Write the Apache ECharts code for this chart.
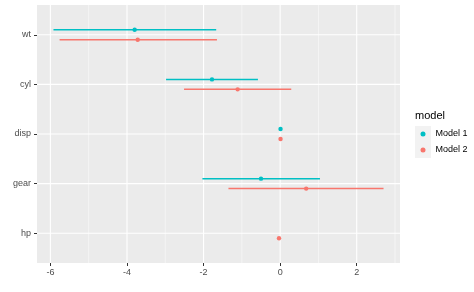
<!DOCTYPE html>
<html><head><meta charset="utf-8">
<script src="https://cdn.jsdelivr.net/npm/echarts@6/dist/echarts.min.js"></script>
<style>html,body{margin:0;padding:0;background:#fff}#c{width:474px;height:292px}</style>
</head><body><div id="c"></div>
<script>
const terms = ['wt', 'cyl', 'disp', 'gear', 'hp'];
const models = ['Model 1', 'Model 2'];
// estimates and confidence intervals per term (null = not in model)
const m1Est = [-3.80, -1.78, 0.01, -0.50, null];
const m1Lo  = [-5.92, -2.98, -0.01, -2.03, null];
const m1Hi  = [-1.67, -0.58, 0.03, 1.04, null];
const m2Est = [-3.72, -1.11, 0.01, 0.68, -0.03];
const m2Lo  = [-5.76, -2.51, -0.01, -1.35, -0.05];
const m2Hi  = [-1.65, 0.29, 0.03, 2.70, -0.01];
const xMajor = [-6, -4, -2, 0, 2];
const xMinor = [-5, -3, -1, 1, 3];
const colors = ['#00BFC4', '#F8766D'];

const yPos = terms.map((t, i) => i + 1);
function rows(est, lo, hi) {
  const out = [];
  est.forEach((e, i) => { if (e !== null) out.push([e, lo[i], hi[i], yPos[i]]); });
  return out;
}
const dodge = [-0.1, 0.1];

function barSeries(k, data) {
  return {
    type: 'custom', name: models[k], data: data, z: 5,
    itemStyle: { color: colors[k] },
    encode: { x: [0, 1, 2], y: 3 },
    renderItem: function (params, api) {
      const y = api.value(3) + dodge[k];
      const p = api.coord([api.value(0), y]);
      const l = api.coord([api.value(1), y]);
      const h = api.coord([api.value(2), y]);
      return { type: 'group', children: [
        { type: 'line', shape: { x1: l[0], y1: l[1], x2: h[0], y2: h[1] },
          style: { stroke: colors[k], lineWidth: 1.5 } },
        { type: 'circle', shape: { cx: p[0], cy: p[1], r: 2.2 },
          style: { fill: colors[k] } }
      ]};
    }
  };
}

function gridSeries(vals, vertical, w) {
  return {
    type: 'custom', silent: true, z: 1,
    data: vals.map(v => vertical ? [v, 3] : [0, v]),
    encode: { x: 0, y: 1 },
    renderItem: function (params, api) {
      const cs = params.coordSys;
      const c = api.coord([api.value(0), api.value(1)]);
      if (vertical) {
        return { type: 'line', shape: { x1: c[0], y1: cs.y, x2: c[0], y2: cs.y + cs.height },
          style: { stroke: '#ffffff', lineWidth: w } };
      }
      return { type: 'line', shape: { x1: cs.x, y1: c[1], x2: cs.x + cs.width, y2: c[1] },
        style: { stroke: '#ffffff', lineWidth: w } };
    }
  };
}

const chart = echarts.init(document.getElementById('c'));
chart.setOption({
  animation: false,
  grid: { left: 37, right: 74, top: 5, bottom: 29, show: true, backgroundColor: '#EBEBEB', borderWidth: 0 },
  xAxis: {
    type: 'value', min: -6.35, max: 3.13,
    splitLine: { show: false },
    axisLine: { show: false, onZero: false },
    axisTick: { show: true, customValues: xMajor, length: 3, lineStyle: { color: '#333333', width: 1 } },
    axisLabel: { customValues: xMajor, color: '#4D4D4D', fontSize: 9, fontFamily: 'Liberation Sans, Arial', margin: 5 }
  },
  yAxis: {
    type: 'value', min: 0.4, max: 5.6, inverse: true,
    splitLine: { show: false },
    axisLine: { show: false, onZero: false },
    axisTick: { show: true, customValues: yPos, length: 3, lineStyle: { color: '#333333', width: 1 } },
    axisLabel: { customValues: yPos, color: '#4D4D4D', fontSize: 9, fontFamily: 'Liberation Sans, Arial', margin: 6,
      formatter: v => terms[Math.round(v) - 1] || '' }
  },
  title: { text: 'model', left: 410, top: 105, textStyle: { fontSize: 11, fontWeight: 'normal', color: '#000', fontFamily: 'Liberation Sans, Arial' } },
  legend: [
    { data: models.map(m => ({ name: m, itemStyle: { color: '#F2F2F2' } })), orient: 'vertical', left: 415, top: 126,
      padding: 0, icon: 'rect', itemWidth: 16, itemHeight: 16, itemGap: 0, formatter: () => '', selectedMode: false, z: 2,
      textStyle: { fontSize: 9 } },
    { data: models, orient: 'vertical', left: 420.5, top: 126, padding: 0, icon: 'circle', itemWidth: 5, itemHeight: 5, itemGap: 0,
      selectedMode: false, z: 3,
      textStyle: { fontSize: 9, lineHeight: 16, height: 16, color: '#000', fontFamily: 'Liberation Sans, Arial', padding: [0, 0, 0, 5] } }
  ],
  series: [
    gridSeries(xMinor, true, 0.5),
    gridSeries(xMajor, true, 1.1),
    gridSeries(yPos, false, 1.1),
    barSeries(0, rows(m1Est, m1Lo, m1Hi)),
    barSeries(1, rows(m2Est, m2Lo, m2Hi))
  ]
});
</script></body></html>
